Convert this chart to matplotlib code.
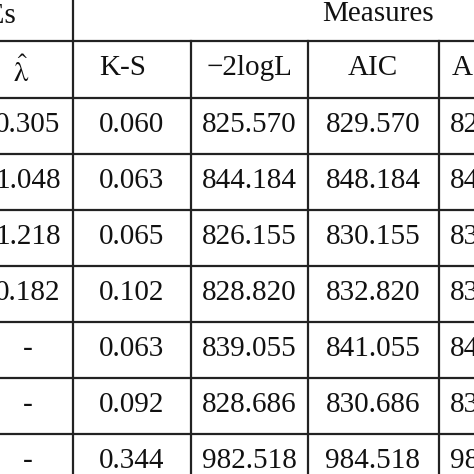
import matplotlib
matplotlib.use("Agg")
import matplotlib.pyplot as plt

plt.rcParams['mathtext.fontset'] = 'stix'

# table contents (visible crop of a larger table)
lam = ["0.305", "1.048", "1.218", "0.182", "-", "-", "-"]
ks = ["0.060", "0.063", "0.065", "0.102", "0.063", "0.092", "0.344"]
m2logl = ["825.570", "844.184", "826.155", "828.820", "839.055", "828.686", "982.518"]
aic = ["829.570", "848.184", "830.155", "832.820", "841.055", "830.686", "984.518"]
# next column (mostly cut off), values partly guessed
next_col = ["829.", "848.", "830.", "832.", "841.", "830.", "984."]
headers = [r"$\hat{\mathrm{\lambda}}$", "K-S", "\u22122logL", "AIC", "A"]

fig = plt.figure(figsize=(4.74, 4.74), dpi=100)
ax = fig.add_axes([0, 0, 1, 1])
ax.set_xlim(0, 474)
ax.set_ylim(474, 0)
ax.axis("off")

font = dict(family="Liberation Serif", fontsize=21, color="#111111")
lw = 1.6

# grid lines
ax.axvline(73, color="#222222", lw=lw)
for x in [191, 308, 439]:
    ax.plot([x, x], [41, 474], color="#222222", lw=lw)
for y in [41, 98, 154, 210, 266, 322, 378, 434]:
    ax.axhline(y, color="#222222", lw=lw)

# top header
ax.text(16, 16, "MLEs", ha="right", va="center", **font)
ax.text(378, 14, "Measures", ha="center", va="center", **font)

# column header row
xs = [28, 132, 249, 373, 497]
ax.text(21, 72, headers[0], ha="center", va="center", **font)
ax.text(123, 68, headers[1], ha="center", va="center", **font)
ax.text(xs[2], 68, headers[2], ha="center", va="center", **font)
ax.text(xs[3], 68, headers[3], ha="center", va="center", **font)
ax.text(452, 68, headers[4], ha="left", va="center", **font)

cols = [lam, ks, m2logl, aic]
for i in range(len(ks)):
    y = 125 + 56 * i
    for j, col in enumerate(cols):
        ax.text(xs[j], y, col[i], ha="center", va="center", **font)
    ax.text(450, y, next_col[i], ha="left", va="center", **font)

fig.savefig("out.png", dpi=100)
